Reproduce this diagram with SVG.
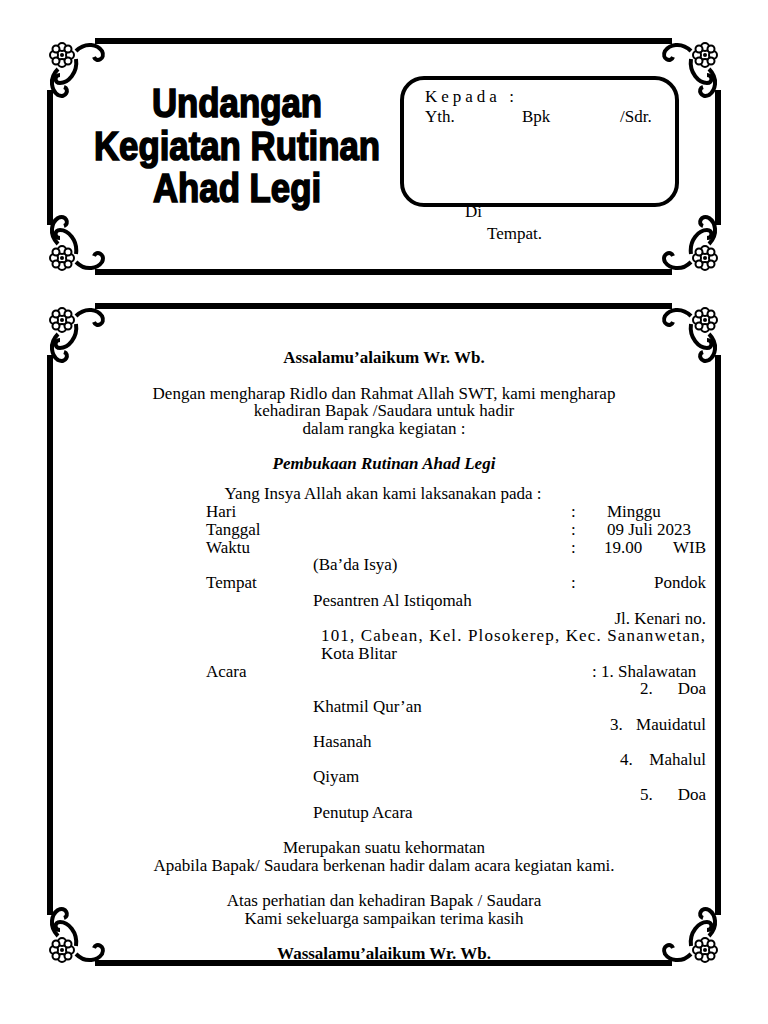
<svg xmlns="http://www.w3.org/2000/svg" width="768" height="1024" viewBox="0 0 768 1024">
<style>
.t{font-family:"Liberation Serif",serif;font-size:17px;fill:#000}
.b{font-weight:bold}
.h{font-family:"Liberation Sans",sans-serif;font-weight:bold;font-size:40px;fill:#000;stroke:#000;stroke-width:1.6}
.f{stroke:#000;stroke-width:6;fill:none}
.o{fill:#fff;stroke:#000;stroke-width:2}
</style>
<defs>
<g id="orn">
<circle class="o" cx="0" cy="0" r="5"/>
<circle class="o" cx="0" cy="-8" r="4"/><circle class="o" cx="8" cy="0" r="4"/>
<circle class="o" cx="0" cy="8" r="4"/><circle class="o" cx="-8" cy="0" r="4"/>
<circle class="o" cx="6" cy="-6" r="3.5"/><circle class="o" cx="6" cy="6" r="3.5"/>
<circle class="o" cx="-6" cy="6" r="3.5"/><circle class="o" cx="-6" cy="-6" r="3.5"/>
<circle cx="0" cy="0" r="2"/>
<path d="M14 -4 C24 -14 36 -10 40 -4 C44 4 34 8 32 2 M14 4 C16 18 6 28 -2 28 C-8 28 -8 20 -2 20" fill="none" stroke="#000" stroke-width="4"/>
<path d="M-4 14 C-14 24 -10 36 -4 40 C4 44 8 34 2 32" fill="none" stroke="#000" stroke-width="4"/>
</g>
</defs>
<g id="frames">
<line class="f" x1="95" y1="41" x2="672" y2="41"/>
<line class="f" x1="95" y1="272" x2="672" y2="272"/>
<line class="f" x1="50" y1="90" x2="50" y2="225"/>
<line class="f" x1="718" y1="90" x2="718" y2="225"/>
<line class="f" x1="95" y1="306" x2="672" y2="306"/>
<line class="f" x1="95" y1="963" x2="672" y2="963"/>
<line class="f" x1="50" y1="355" x2="50" y2="915"/>
<line class="f" x1="718" y1="355" x2="718" y2="915"/>
</g>
<g id="ornaments">
<use href="#orn" transform="translate(62,55)"/>
<use href="#orn" transform="translate(705,55) scale(-1,1)"/>
<use href="#orn" transform="translate(62,258) scale(1,-1)"/>
<use href="#orn" transform="translate(705,258) scale(-1,-1)"/>
<use href="#orn" transform="translate(62,320)"/>
<use href="#orn" transform="translate(705,320) scale(-1,1)"/>
<use href="#orn" transform="translate(62,950) scale(1,-1)"/>
<use href="#orn" transform="translate(705,950) scale(-1,-1)"/>
</g>
<g id="title">
<text class="h" x="237" y="117" text-anchor="middle" transform="translate(237,0) scale(0.87,1) translate(-237,0)">Undangan</text>
<text class="h" x="237" y="160" text-anchor="middle" transform="translate(237,0) scale(0.87,1) translate(-237,0)">Kegiatan Rutinan</text>
<text class="h" x="237" y="202" text-anchor="middle" transform="translate(237,0) scale(0.87,1) translate(-237,0)">Ahad Legi</text>
</g>
<g id="kepada">
<rect x="402" y="78" width="275" height="127" rx="22" fill="none" stroke="#000" stroke-width="4"/>
<text class="t" x="425" y="102" letter-spacing="4">Kepada :</text>
<text class="t" x="425" y="122">Yth.</text>
<text class="t" x="522" y="122">Bpk</text>
<text class="t" x="620" y="122">/Sdr.</text>
<text class="t" x="465" y="217">Di</text>
<text class="t" x="487" y="239">Tempat.</text>
</g>
<g id="body" class="t">
<text class="t b" x="384" y="363" text-anchor="middle">Assalamu’alaikum Wr. Wb.</text>
<text class="t" x="384" y="399" text-anchor="middle">Dengan mengharap Ridlo dan Rahmat Allah SWT, kami mengharap</text>
<text class="t" x="384" y="416" text-anchor="middle">kehadiran  Bapak /Saudara untuk hadir</text>
<text class="t" x="384" y="434" text-anchor="middle">dalam rangka kegiatan  :</text>
<text class="t b" x="384" y="469" text-anchor="middle" font-style="italic">Pembukaan Rutinan Ahad Legi</text>
<text class="t" x="383" y="499" text-anchor="middle">Yang Insya Allah akan kami laksanakan pada :</text>
<text class="t" x="206" y="517">Hari</text><text class="t" x="571" y="517">:</text><text class="t" x="607" y="517">Minggu</text>
<text class="t" x="206" y="535">Tanggal</text><text class="t" x="571" y="535">:</text><text class="t" x="607" y="535">09 Juli 2023</text>
<text class="t" x="206" y="553">Waktu</text><text class="t" x="571" y="553">:</text><text class="t" x="604" y="553">19.00</text><text class="t" x="706" y="553" text-anchor="end">WIB</text>
<text class="t" x="313" y="570">(Ba’da Isya)</text>
<text class="t" x="206" y="588">Tempat</text><text class="t" x="571" y="588">:</text><text class="t" x="706" y="588" text-anchor="end">Pondok</text>
<text class="t" x="313" y="606">Pesantren Al Istiqomah</text>
<text class="t" x="706" y="624" text-anchor="end">Jl. Kenari no.</text>
<text class="t" x="321" y="641" textLength="384" lengthAdjust="spacing">101, Cabean, Kel. Plosokerep, Kec. Sananwetan,</text>
<text class="t" x="321" y="659">Kota Blitar</text>
<text class="t" x="206" y="677">Acara</text><text class="t" x="592" y="677">: 1. Shalawatan</text>
<text class="t" x="640" y="694">2.</text><text class="t" x="706" y="694" text-anchor="end">Doa</text>
<text class="t" x="313" y="712">Khatmil Qur’an</text>
<text class="t" x="610" y="730">3.</text><text class="t" x="706" y="730" text-anchor="end">Mauidatul</text>
<text class="t" x="313" y="747">Hasanah</text>
<text class="t" x="620" y="765">4.</text><text class="t" x="706" y="765" text-anchor="end">Mahalul</text>
<text class="t" x="313" y="782">Qiyam</text>
<text class="t" x="640" y="800">5.</text><text class="t" x="706" y="800" text-anchor="end">Doa</text>
<text class="t" x="313" y="818">Penutup Acara</text>
<text class="t" x="384" y="853" text-anchor="middle">Merupakan suatu kehormatan</text>
<text class="t" x="384" y="871" text-anchor="middle">Apabila Bapak/ Saudara berkenan hadir dalam acara kegiatan kami.</text>
<text class="t" x="384" y="906" text-anchor="middle">Atas perhatian dan kehadiran Bapak / Saudara</text>
<text class="t" x="384" y="924" text-anchor="middle">Kami sekeluarga sampaikan terima kasih</text>
<text class="t b" x="384" y="959" text-anchor="middle">Wassalamu’alaikum Wr. Wb.</text>
</g>
</svg>
